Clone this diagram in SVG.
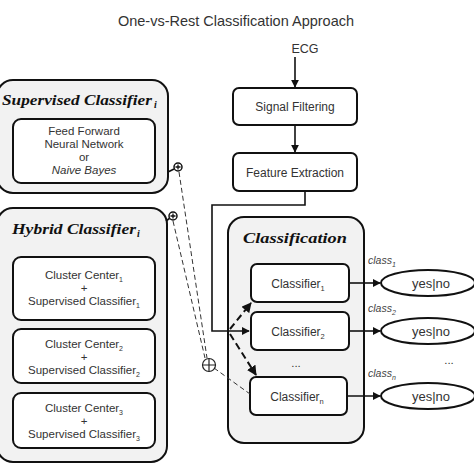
<svg xmlns="http://www.w3.org/2000/svg" width="474" height="474" viewBox="0 0 474 474">
<style>
.t{font-family:"Liberation Sans",Arial,sans-serif;font-size:11.5px;fill:#333;text-anchor:middle}
.m{font-size:12px}
.h{font-family:"Liberation Serif","DejaVu Serif",serif;font-size:15px;font-weight:bold;font-style:italic;fill:#111}
.cont{fill:#f2f2f2;stroke:#111;stroke-width:2}
.box{fill:#fff;stroke:#111;stroke-width:2}
.ln{fill:none;stroke:#111;stroke-width:1.6}
.dl{fill:none;stroke:#333;stroke-width:1;stroke-dasharray:5 3}
.db{fill:none;stroke:#111;stroke-width:2;stroke-dasharray:7 4}
.cl{font-family:"Liberation Sans",Arial,sans-serif;font-size:10.5px;font-style:italic;fill:#444}
</style>
<defs>
<marker id="ar" viewBox="0 0 10 10" refX="9" refY="5" markerWidth="5" markerHeight="5" orient="auto-start-reverse" markerUnits="strokeWidth">
<path d="M0,0 L10,5 L0,10 z" fill="#111"/>
</marker>
</defs>
<rect width="474" height="474" fill="#fff"/>
<text class="t" x="236" y="26" style="font-size:14.5px">One-vs-Rest Classification Approach</text>

<g id="ecg"><text class="t" x="305" y="53" style="font-size:12.5px">ECG</text></g>
<g id="signal-filtering"><rect class="box" x="233" y="88" width="124" height="37" rx="6"/><text class="t m" x="295" y="111">Signal Filtering</text></g>
<g id="feature-extraction"><rect class="box" x="233" y="153" width="124" height="38" rx="6"/><text class="t m" x="295" y="177">Feature Extraction</text></g>

<g id="supervised-classifier">
<rect class="cont" x="-3" y="80" width="171" height="113" rx="16"/>
<text class="h" x="2" y="105" textLength="150" lengthAdjust="spacingAndGlyphs">Supervised Classifier</text><text class="h" x="154" y="108" style="font-size:10px">i</text>
<rect class="box" x="13" y="119" width="142" height="64" rx="8"/>
<text class="t" x="84" y="135">Feed Forward</text>
<text class="t" x="84" y="148">Neural Network</text>
<text class="t" x="84" y="161">or</text>
<text class="t" x="84" y="174" style="font-style:italic">Naive Bayes</text>
</g>

<g id="hybrid-classifier">
<rect class="cont" x="-3" y="208" width="170" height="254" rx="16"/>
<text class="h" x="12" y="234" textLength="124" lengthAdjust="spacingAndGlyphs">Hybrid Classifier</text><text class="h" x="137" y="237" style="font-size:10px">i</text>
<rect class="box" x="13" y="257" width="142" height="63" rx="8"/>
<text class="t" x="84" y="279">Cluster Center<tspan dy="3" style="font-size:7px">1</tspan></text>
<text class="t" x="84" y="292">+</text>
<text class="t" x="84" y="305">Supervised Classifier<tspan dy="3" style="font-size:7px">1</tspan></text>
<rect class="box" x="13" y="329" width="142" height="54" rx="8"/>
<text class="t" x="84" y="348">Cluster Center<tspan dy="3" style="font-size:7px">2</tspan></text>
<text class="t" x="84" y="361">+</text>
<text class="t" x="84" y="374">Supervised Classifier<tspan dy="3" style="font-size:7px">2</tspan></text>
<rect class="box" x="13" y="393" width="142" height="55" rx="8"/>
<text class="t" x="84" y="412">Cluster Center<tspan dy="3" style="font-size:7px">3</tspan></text>
<text class="t" x="84" y="425">+</text>
<text class="t" x="84" y="438">Supervised Classifier<tspan dy="3" style="font-size:7px">3</tspan></text>
</g>

<g id="classification">
<rect class="cont" x="228" y="217" width="136" height="226" rx="16"/>
<text class="h" x="243" y="243" textLength="104" lengthAdjust="spacingAndGlyphs">Classification</text>
</g>
<g id="classifier-1"><rect class="box" x="251" y="264" width="98" height="38" rx="6"/><text class="t m" x="298" y="288">Classifier<tspan dy="3" style="font-size:7.5px">1</tspan></text></g>
<g id="classifier-2"><rect class="box" x="251" y="312" width="98" height="38" rx="6"/><text class="t m" x="298" y="336">Classifier<tspan dy="3" style="font-size:7.5px">2</tspan></text></g>
<text class="t" x="296" y="367">...</text>
<g id="classifier-n"><rect class="box" x="250" y="377" width="97" height="38" rx="6"/><text class="t m" x="297" y="401">Classifier<tspan dy="3" style="font-size:7.5px">n</tspan></text></g>

<g id="out-1"><ellipse cx="428" cy="283" rx="47" ry="13" fill="#fff" stroke="#111" stroke-width="2"/><text class="t" x="431" y="288" style="font-size:13px">yes|no</text></g>
<g id="out-2"><ellipse cx="428" cy="331" rx="47" ry="13" fill="#fff" stroke="#111" stroke-width="2"/><text class="t" x="431" y="336" style="font-size:13px">yes|no</text></g>
<text class="t" x="449" y="364">...</text>
<g id="out-n"><ellipse cx="428" cy="396" rx="47" ry="13" fill="#fff" stroke="#111" stroke-width="2"/><text class="t" x="431" y="401" style="font-size:13px">yes|no</text></g>

<text class="cl" x="368" y="264">class<tspan dy="3" style="font-size:7px">1</tspan></text>
<text class="cl" x="368" y="312">class<tspan dy="3" style="font-size:7px">2</tspan></text>
<text class="cl" x="368" y="377">class<tspan dy="3" style="font-size:7px">n</tspan></text>

<g id="connectors">
<line class="ln" x1="295" y1="57" x2="295" y2="87" marker-end="url(#ar)"/>
<line class="ln" x1="295" y1="125" x2="295" y2="152" marker-end="url(#ar)"/>
<polyline class="ln" points="305,191 305,205 212,205 212,331 249,331" marker-end="url(#ar)"/>
<line class="db" x1="230" y1="329" x2="251" y2="303" marker-end="url(#ar)"/>
<line class="db" x1="230" y1="334" x2="256" y2="375" marker-end="url(#ar)"/>
<line class="ln" x1="349" y1="283" x2="380" y2="283" marker-end="url(#ar)"/>
<line class="ln" x1="349" y1="331" x2="380" y2="331" marker-end="url(#ar)"/>
<line class="ln" x1="347" y1="396" x2="380" y2="396" marker-end="url(#ar)"/>
<line class="ln" x1="168" y1="172" x2="174" y2="169"/>
<line class="ln" x1="166" y1="221" x2="170" y2="218"/>
<line class="dl" x1="179" y1="172" x2="207" y2="358"/>
<line class="dl" x1="173" y1="221" x2="205" y2="358"/>
<line class="dl" x1="214" y1="368" x2="250" y2="394"/>
<circle cx="178" cy="167" r="4" fill="#fff" stroke="#111" stroke-width="1.5"/>
<path d="M175.5,167 h5 M178,164.5 v5" stroke="#111" stroke-width="1.3"/>
<circle cx="173" cy="216" r="4" fill="#fff" stroke="#111" stroke-width="1.5"/>
<path d="M170.5,216 h5 M173,213.5 v5" stroke="#111" stroke-width="1.3"/>
<circle cx="209" cy="365" r="6.5" fill="none" stroke="#222" stroke-width="1.2"/>
<path d="M202.5,365 h13 M209,358.5 v13" stroke="#222" stroke-width="1.2"/>
</g>
</svg>
